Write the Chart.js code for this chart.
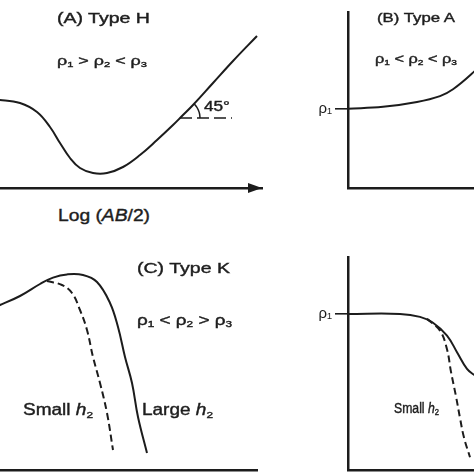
<!DOCTYPE html>
<html>
<head>
<meta charset="utf-8">
<script src="https://cdn.jsdelivr.net/npm/chart.js@4"></script>
<style>
html,body{margin:0;padding:0;background:#fff;}
#wrap{position:relative;width:474px;height:474px;overflow:hidden;background:#fff;}
#wrap canvas{position:absolute;}
.lbl{position:absolute;white-space:nowrap;font-family:"Liberation Sans",Arial,Helvetica,sans-serif;color:#1e1e1e;transform-origin:0 50%;-webkit-text-stroke:0.4px #1e1e1e;}
.lbl sub{font-size:0.62em;vertical-align:-0.28em;line-height:0;}
.lbl i{font-style:italic;}
</style>
</head>
<body>
<div id="wrap">
  <canvas id="cA" width="292" height="200" style="left:-20px;top:0px;"></canvas>
  <canvas id="cB" width="210" height="200" style="left:310px;top:0px;"></canvas>
  <canvas id="cC" width="287" height="242" style="left:-20px;top:240px;"></canvas>
  <canvas id="cD" width="210" height="237" style="left:310px;top:245px;"></canvas>
</div>
<script>
// ---------- DATA (x = log AB/2, y = apparent resistivity, arbitrary units) ----------
// (A) Type H : rho1 > rho2 < rho3
const typeH_x = [-1, 0, 1.0, 1.85, 2.5, 3.0, 3.5, 4.0, 4.65, 5.35, 6.15, 7.0, 7.85, 8.65, 9.1, 9.65, 10.65, 11.65, 12.85];
const typeH_y = [4.45, 4.4, 4.25, 3.8, 3.05, 2.25, 1.5, 1.0, 0.75, 0.75, 1.05, 1.65, 2.4, 3.15, 3.6, 4.15, 5.25, 6.35, 7.6];
// 45 degree reference (horizontal dashed line and angle arc)
const ref45_x = [9.0, 11.6];
const ref45_y = [3.5, 3.5];
const arc45_x = [10.0, 9.98, 9.92, 9.83, 9.71];
const arc45_y = [3.5, 3.7, 3.89, 4.06, 4.21];

// (B) Type A : rho1 < rho2 < rho3
const typeA_x = [0, 1.75, 3.45, 4.6, 5.25, 6.25, 7.35];
const typeA_y = [4.05, 4.15, 4.4, 4.7, 5.05, 5.9, 7.0];
const rho1_A = 4.05;

// (C) Type K : rho1 < rho2 > rho3
const typeK_large_x = [-1, 0, 1.0, 2.0, 2.65, 3.35, 4.15, 4.85, 5.5, 5.9, 6.25, 6.6, 6.9, 7.35];
const typeK_large_y = [7.85, 8.25, 8.7, 9.3, 9.62, 9.78, 9.75, 9.4, 8.35, 7.15, 5.65, 4.35, 2.65, 0.85];
const typeK_small_x = [2.35, 3.1, 3.6, 4.0, 4.35, 4.65, 5.0, 5.35, 5.65];
const typeK_small_y = [9.45, 9.25, 8.85, 8.0, 7.0, 5.65, 4.35, 2.85, 1.0];

// (D) Type Q : rho1 > rho2 > rho3
const typeQ_large_x = [0, 2.6, 3.6, 4.25, 4.95, 5.45, 5.95, 6.3, 7.1, 8.0];
const typeQ_large_y = [7.95, 7.95, 7.8, 7.5, 6.85, 6.0, 5.15, 4.85, 4.3, 4.0];
const typeQ_small_x = [3.95, 4.6, 4.95, 5.15, 5.4, 5.6, 5.8, 6.1];
const typeQ_small_y = [7.7, 7.1, 6.15, 5.0, 3.75, 2.65, 1.65, 0.65];
const rho1_Q = 7.95;

// tick label text
const rho1Label = 'ρ\u2081';

// ---------- LABELS (real text) ----------
const labels = [
  {html:'(A) Type H', x:57, y:18, w:93, fs:14},
  {html:'ρ<sub>1</sub> &gt; ρ<sub>2</sub> &lt; ρ<sub>3</sub>', x:57, y:60, w:90, fs:13},
  {html:'Log (<i>AB</i>/2)', x:58, y:215, w:92, fs:17},
  {html:'45°', x:204, y:106, w:26, fs:14},
  {html:'(B) Type A', x:377, y:17, w:78, fs:13},
  {html:'ρ<sub>1</sub> &lt; ρ<sub>2</sub> &lt; ρ<sub>3</sub>', x:375, y:59, w:82, fs:12},
  {html:'(C) Type K', x:137, y:267, w:93, fs:15},
  {html:'ρ<sub>1</sub> &lt; ρ<sub>2</sub> &gt; ρ<sub>3</sub>', x:137, y:320, w:95, fs:14},
  {html:'Small <i>h</i><sub>2</sub>', x:23, y:410, w:70, fs:16},
  {html:'Large <i>h</i><sub>2</sub>', x:142, y:410, w:71, fs:16},
  {html:'Small <i>h</i><sub>2</sub>', x:394, y:408, w:45, fs:14}
];

// ---------- helpers ----------
const INK = '#1c1c1c';
function pts(xs, ys){ return xs.map((x,i)=>({x:x, y:ys[i]})); }
function curve(xs, ys, opts){
  return Object.assign({data:pts(xs,ys), borderColor:INK, borderWidth:2, pointRadius:0,
    fill:false, tension:0.4}, opts||{});
}
function hiddenAxis(min,max){
  return {type:'linear', min:min, max:max, display:false};
}
function borderAxis(min,max,bw){
  return {type:'linear', min:min, max:max, display:true,
    grid:{display:false, drawTicks:false}, ticks:{display:false},
    border:{display:true, color:INK, width:bw}};
}
function rhoAxis(min,max,val){
  return {type:'linear', min:min, max:max, display:true,
    afterBuildTicks:(s)=>{ s.ticks=[{value:val}]; },
    afterFit:(s)=>{ s.width=31; },
    ticks:{display:true, padding:3, color:INK, callback:()=>rho1Label,
      font:{family:'"Liberation Sans", Arial, sans-serif', size:15}},
    grid:{display:true, drawOnChartArea:false, drawTicks:true, tickLength:13, color:INK, lineWidth:1.6},
    border:{display:true, color:INK, width:2.5}};
}
const arrowPlugin = {
  id:'arrowhead',
  afterDraw(chart){
    const xs = chart.scales.x, ys = chart.scales.y;
    const ctx = chart.ctx;
    const tipX = xs.right, y = ys.bottom;
    ctx.save();
    ctx.fillStyle = INK;
    ctx.beginPath();
    ctx.moveTo(tipX, y);
    ctx.lineTo(tipX-14, y-5);
    ctx.lineTo(tipX-14, y+5);
    ctx.closePath();
    ctx.fill();
    ctx.restore();
  }
};
function baseOptions(padding, scales){
  return {responsive:false, animation:false, events:[],
    layout:{padding:padding},
    plugins:{legend:{display:false}, tooltip:{enabled:false}, title:{display:false}},
    scales:scales};
}

// (A)
new Chart(document.getElementById('cA'), {
  type:'line',
  data:{datasets:[
    curve(typeH_x, typeH_y),
    curve(ref45_x, ref45_y, {borderWidth:1.6, borderDash:[12,5], tension:0}),
    curve(arc45_x, arc45_y, {borderWidth:1.5})
  ]},
  options:baseOptions({left:0,right:10,top:0,bottom:12},
    {x:borderAxis(-1,13.1,2.4), y:hiddenAxis(0,9.4)}),
  plugins:[arrowPlugin]
});

// (B)
new Chart(document.getElementById('cB'), {
  type:'line',
  data:{datasets:[ curve(typeA_x, typeA_y) ]},
  options:baseOptions({left:7,right:12,top:8,bottom:12},
    {x:borderAxis(0,8,2.5), y:rhoAxis(0,9,rho1_A)})
});

// (C)
new Chart(document.getElementById('cC'), {
  type:'line',
  data:{datasets:[
    curve(typeK_large_x, typeK_large_y),
    curve(typeK_small_x, typeK_small_y, {borderDash:[7,4]})
  ]},
  options:baseOptions({left:0,right:10,top:10,bottom:12},
    {x:borderAxis(-1,12.85,2.4), y:hiddenAxis(0,11)})
});

// (D)
new Chart(document.getElementById('cD'), {
  type:'line',
  data:{datasets:[
    curve(typeQ_large_x, typeQ_large_y),
    curve(typeQ_small_x, typeQ_small_y, {borderDash:[7,4]})
  ]},
  options:baseOptions({left:7,right:12,top:8,bottom:12},
    {x:borderAxis(0,8,2.5), y:rhoAxis(0,10.85,rho1_Q)})
});

// place labels
const wrap = document.getElementById('wrap');
labels.forEach(L=>{
  const d = document.createElement('div');
  d.className='lbl';
  d.innerHTML = L.html;
  d.style.fontSize = L.fs+'px';
  d.style.lineHeight = L.fs+'px';
  d.style.left = L.x+'px';
  d.style.top = (L.y - L.fs/2)+'px';
  wrap.appendChild(d);
  const nat = d.getBoundingClientRect().width;
  if (nat>0) d.style.transform = 'scaleX('+(L.w/nat).toFixed(3)+')';
});
</script>
</body>
</html>
